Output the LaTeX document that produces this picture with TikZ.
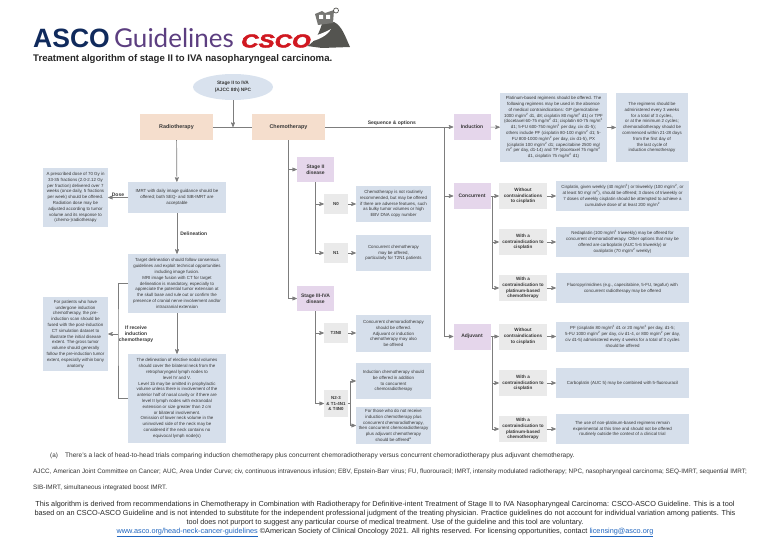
\documentclass[tikz,border=0pt]{standalone}
\usepackage{fontspec}
\setmainfont{Liberation Sans}
\newfontfamily\logofont{Lato}
\newfontfamily\cscofont[FakeBold=2.5]{Liberation Sans Bold Italic}
\usepackage{xcolor}
\definecolor{ascoblue}{RGB}{16, 42, 92}
\definecolor{ascopurple}{RGB}{92, 62, 128}
\definecolor{cscored}{RGB}{208, 24, 32}
\definecolor{dragon}{RGB}{84, 84, 80}
\definecolor{peach}{RGB}{245, 222, 205}
\definecolor{lilac}{RGB}{229, 214, 235}
\definecolor{steel}{RGB}{214, 223, 235}
\definecolor{oval}{RGB}{217, 226, 238}
\definecolor{pale}{RGB}{234, 234, 234}
\definecolor{wire}{RGB}{125, 125, 125}
\definecolor{weblink}{RGB}{30, 100, 190}
\usetikzlibrary{shapes, positioning, arrows}
\tikzset{
	txt/.style = {font=\fontsize{4.4}{5.8}\selectfont, align=center, inner sep=0pt, text=black!78},
	headbox/.style = {txt, fill=peach, minimum width=73, minimum height=26, font=\fontsize{5.4}{6.5}\selectfont\bfseries},
	stagebox/.style = {txt, fill=lilac, minimum width=37, minimum height=25, font=\fontsize{5}{6.3}\selectfont\bfseries},
	recbox/.style = {txt, fill=steel},
	nbox/.style = {txt, fill=pale, minimum width=24, minimum height=20, font=\fontsize{4.4}{5.8}\selectfont\bfseries},
	contra/.style = {txt, fill=pale, minimum width=48, minimum height=26, font=\fontsize{4.6}{5.8}\selectfont\bfseries},
	optbox/.style = {recbox, minimum width=133, minimum height=30},
	midbox/.style = {recbox, minimum width=75, minimum height=36.5},
	lab/.style = {txt, font=\fontsize{5}{6}\selectfont\bfseries},
	foot/.style = {inner sep=0pt, anchor=west, font=\fontsize{6.37}{8}\selectfont, text=black!80},
	wiring/.style = {draw=wire, line width=0.7pt},
	arr/.style = {wiring, ->}
}
\begin{document}
\begin{tikzpicture}[> = stealth', x=1pt, y=-1pt]
	\useasboundingbox (0,0) rectangle (768,543);

	% logos and title
	\node [inner sep=0pt, anchor=west, text=ascoblue, font=\fontsize{26.5}{30}\selectfont\bfseries] (asco) at (33,38) {ASCO};
	\node [inner sep=0pt, anchor=west, text=ascopurple, font=\fontsize{26}{30}\selectfont\logofont] (guide) at (114,38) {Guidelines};
	\fill [dragon] (307,46) .. controls (316,42) and (320,30) .. (322,24) -- (334,22)
		.. controls (342,26) and (345,36) .. (350,47) -- (322,48) -- cycle;
	\fill [white] (303,39) .. controls (312,37) and (322,34) .. (331,29) .. controls (328,35) and (318,41) .. (307,42) -- cycle;
	\fill [dragon] (330,30) .. controls (333,34) and (334,40) .. (331,46) -- (337,46) .. controls (339,38) and (336,32) .. (330,30) -- cycle;
	\fill [dragon!80] (315,14) -- (322,11) -- (325,13) -- (334,10) -- (333,23) -- (318,25) -- cycle;
	\fill [white] (319,15) rectangle (323,19) (326,15) rectangle (330,19);
	\draw [dragon, line width=0.7pt] (336,10.5) circle (2.5);
	\node [inner sep=0pt, anchor=west, text=cscored, xscale=1.3, font=\fontsize{18.5}{22}\cscofont\selectfont] (csco) at (241,41) {CSCO};
	\node [inner sep=0pt, anchor=west, font=\fontsize{9.6}{12}\selectfont\bfseries, text=black!85] (title) at (33,59) {Treatment algorithm of stage II to IVA nasopharyngeal carcinoma.};

	% top of the tree
	\node [ellipse, fill=oval, txt, minimum width=80, minimum height=26, font=\fontsize{4.8}{6.4}\selectfont\bfseries] (start) at (233,87) {Stage II to IVA\\(AJCC 8th) NPC};
	\node [headbox] (radio) at (176.5,127) {Radiotherapy};
	\node [headbox] (chemo) at (288.5,127) {Chemotherapy};
	\node [stagebox, minimum height=26] (induction) at (472,127) {Induction};
	\node [stagebox, minimum height=26] (concurrent) at (472,196) {Concurrent};
	\node [stagebox, minimum height=26] (adjuvant) at (472,336.5) {Adjuvant};

	% radiotherapy side
	\node [recbox, minimum width=98, minimum height=31] (imrt) at (177,197.5) {IMRT with daily image guidance should be\\offered; both SEQ- and SIB-IMRT are\\acceptable};
	\node [recbox, minimum width=65, minimum height=59] (dosetxt) at (75.5,197.5) {A prescribed dose of 70 Gy in\\33-35 fractions (2.0-2.12 Gy\\per fraction) delivered over 7\\weeks (once daily, 5 fractions\\per week) should be offered.\\Radiation dose may be\\adjusted according to tumor\\volume and its response to\\(chemo-)radiotherapy};
	\node [recbox, minimum width=98, minimum height=59] (target) at (177,283.5) {Target delineation should follow consensus\\guidelines and exploit technical opportunities\\including image fusion.\\MRI image fusion with CT for target\\delineation is mandatory, especially to\\appreciate the potential tumor extension at\\the skull base and rule out or confirm the\\presence of cranial nerve involvement and/or\\intracranial extension};
	\node [recbox, minimum width=98, minimum height=89] (elective) at (177,398.5) {The delineation of elective nodal volumes\\should cover the bilateral neck from the\\retropharyngeal lymph nodes to\\level IV and V.\\Level 1b may be omitted in prophylactic\\volume unless there is involvement of the\\anterior half of nasal cavity or if there are\\level II lymph nodes with extranodal\\extension or size greater than 2 cm\\or bilateral involvement.\\Omission of lower neck volume in the\\uninvolved side of the neck may be\\considered if the neck contains no\\equivocal lymph node(s)};
	\node [recbox, minimum width=65, minimum height=74] (patients) at (75.5,334) {For patients who have\\undergone induction\\chemotherapy, the pre-\\induction scan should be\\fused with the post-induction\\CT simulation dataset to\\illustrate the initial disease\\extent. The gross tumor\\volume should generally\\follow the pre-induction tumor\\extent, especially within bony\\anatomy};
	\coordinate (bracket) at (118,334);

	% chemotherapy by stage
	\node [stagebox] (stageii) at (315.5,169.5) {Stage II\\disease};
	\node [stagebox] (stageiii) at (315.5,298.5) {Stage III-IVA\\disease};
	\node [nbox] (nzero) at (336,204) {N0};
	\node [nbox] (none) at (336,253) {N1};
	\node [nbox] (tthree) at (336,333) {T3N0};
	\node [nbox, minimum height=27] (ntwo) at (336,403.5) {N2-3\\\& T1-4N1\\\& T4N0};
	\node [midbox] (nzerotxt) at (393.5,204) {Chemotherapy is not routinely\\recommended, but may be offered\\if there are adverse features, such\\as bulky tumor volumes or high\\EBV DNA copy number};
	\node [midbox] (nonetxt) at (393.5,253) {Concurrent chemotherapy\\may be offered,\\particularly for T2N1 patients};
	\node [midbox] (tthreetxt) at (393.5,333.5) {Concurrent chemoradiotherapy\\should be offered.\\Adjuvant or induction\\chemotherapy may also\\be offered};
	\node [midbox] (ntwoa) at (393.5,381) {Induction chemotherapy should\\be offered in addition\\to concurrent\\chemoradiotherapy};
	\node [midbox] (ntwob) at (393.5,425.5) {For those who do not receive\\induction chemotherapy plus\\concurrent chemoradiotherapy,\\then concurrent chemoradiotherapy\\plus adjuvant chemotherapy\\should be offered\textsuperscript{a}};
	\coordinate (nfork) at (350,403.5);

	% induction
	\node [recbox, minimum width=107, minimum height=69] (regimens) at (553.5,127.5) {Platinum-based regimens should be offered. The\\following regimens may be used in the absence\\of medical contraindications: GP (gemcitabine\\1000 mg/m\textsuperscript{2} d1, d8; cisplatin 80 mg/m\textsuperscript{2} d1) or TPF\\(docetaxel 60-75 mg/m\textsuperscript{2} d1; cisplatin 60-75 mg/m\textsuperscript{2}\\d1; 5-FU 600-750 mg/m\textsuperscript{2} per day, civ d1-5);\\others include PF (cisplatin 80-100 mg/m\textsuperscript{2} d1; 5-\\FU 800-1000 mg/m\textsuperscript{2} per day, civ d1-5), PX\\(cisplatin 100 mg/m\textsuperscript{2} d1; capecitabine 2500 mg/\\m\textsuperscript{2} per day, d1-14) and TP (docetaxel 75 mg/m\textsuperscript{2}\\d1, cisplatin 75 mg/m\textsuperscript{2} d1)};
	\node [recbox, minimum width=72, minimum height=69] (cycles) at (652,127.5) {The regimens should be\\administered every 3 weeks\\for a total of 3 cycles,\\or at the minimum 2 cycles;\\chemoradiotherapy should be\\commenced within 21-28 days\\from the first day of\\the last cycle of\\induction chemotherapy};
	\coordinate (seqfork) at (444,127);

	% concurrent and adjuvant
	\coordinate (concfork) at (492,196);
	\coordinate (adjfork) at (492,336.5);
	\node [contra] (cwo) at (523,196) {Without\\contraindications\\to cisplatin};
	\node [contra] (cwith) at (523,242) {With a\\contraindication to\\cisplatin};
	\node [contra] (cplat) at (523,288) {With a\\contraindication to\\platinum-based\\chemotherapy};
	\node [optbox] (cwotxt) at (622.5,196) {Cisplatin, given weekly (40 mg/m\textsuperscript{2}) or triweekly (100 mg/m\textsuperscript{2}, or\\at least 50 mg/ m\textsuperscript{2}), should be offered; 3 doses of triweekly or\\7 doses of weekly cisplatin should be attempted to achieve a\\cumulative dose of at least 200 mg/m\textsuperscript{2}};
	\node [optbox] (cwithtxt) at (622.5,242) {Nedaplatin (100 mg/m\textsuperscript{2} triweekly) may be offered for\\concurrent chemoradiotherapy. Other options that may be\\offered are carboplatin (AUC 5-6 triweekly) or\\oxaliplatin (70 mg/m\textsuperscript{2} weekly)};
	\node [optbox] (cplattxt) at (622.5,288) {Fluoropyrimidines (e.g., capecitabine, 5-FU, tegafur) with\\concurrent radiotherapy may be offered};
	\node [contra] (awo) at (523,336.5) {Without\\contraindications\\to cisplatin};
	\node [contra] (awith) at (523,383) {With a\\contraindication to\\cisplatin};
	\node [contra] (aplat) at (523,429) {With a\\contraindication to\\platinum-based\\chemotherapy};
	\node [optbox] (awotxt) at (622.5,336.5) {PF (cisplatin 80 mg/m\textsuperscript{2} d1 or 20 mg/m\textsuperscript{2} per day, d1-5;\\5-FU 1000 mg/m\textsuperscript{2} per day, civ d1-4, or 800 mg/m\textsuperscript{2} per day,\\civ d1-5) administered every 4 weeks for a total of 3 cycles\\should be offered};
	\node [optbox] (awithtxt) at (622.5,383) {Carboplatin (AUC 5) may be combined with 5-fluorouracil};
	\node [optbox] (aplattxt) at (622.5,429) {The use of non-platinum-based regimens remain\\experimental at this time and should not be offered\\routinely outside the context of a clinical trial};

	% connectors
	\draw [wiring] (radio) -- (chemo);
	\draw [arr] (start) -- (start |- radio);
	\draw [arr] (radio) -- (imrt);
	\draw [arr] (imrt) -- node [lab, right=3pt] (delin) {Delineation} (target);
	\draw [arr] (target) -- (elective);
	\draw [arr] (imrt) -- node [lab, above=1pt] (dose) {Dose} (dosetxt);
	\draw [wiring] (target.west) -| (bracket) |- (elective.west);
	\draw [arr] (bracket) -- (patients);
	\draw [arr] (chemo.south) |- (stageii.west);
	\draw [arr] (chemo.south) |- (stageiii.west);
	\draw [arr] (stageii.south) |- (nzero.west);
	\draw [arr] (stageii.south) |- (none.west);
	\draw [arr] (stageiii.south) |- (tthree.west);
	\draw [arr] (stageiii.south) |- (ntwo.west);
	\draw [arr] (nzero) -- (nzerotxt);
	\draw [arr] (none) -- (nonetxt);
	\draw [arr] (tthree.east) -- (tthree.east -| tthreetxt.west);
	\draw [wiring] (ntwo.east) -- (nfork);
	\draw [arr] (nfork) |- (ntwoa.west);
	\draw [arr] (nfork) |- (ntwob.west);
	\draw [arr] (chemo.east) -- node [lab, pos=0.52, above=1.5pt] (seq) {Sequence \& options} (induction.west);
	\draw [arr] (seqfork) |- (concurrent.west);
	\draw [arr] (seqfork) |- (adjuvant.west);
	\draw [arr] (induction) -- (regimens);
	\draw [arr] (regimens) -- (cycles);
	\draw [arr] (concurrent) -- (cwo);
	\draw [arr] (concfork) |- (cwith.west);
	\draw [arr] (concfork) |- (cplat.west);
	\draw [arr] (cwo) -- (cwotxt);
	\draw [arr] (cwith) -- (cwithtxt);
	\draw [arr] (cplat) -- (cplattxt);
	\draw [arr] (adjuvant) -- (awo);
	\draw [arr] (adjfork) |- (awith.west);
	\draw [arr] (adjfork) |- (aplat.west);
	\draw [arr] (awo) -- (awotxt);
	\draw [arr] (awith) -- (awithtxt);
	\draw [arr] (aplat) -- (aplattxt);

	\node [lab] (ifreceive) at (136,334) {If receive\\induction\\chemotherapy};

	% footnotes
	\node [foot] (aflag) at (50,456) {(a)};
	\node [foot, font=\fontsize{6.55}{8}\selectfont] (anote) at (65,456) {There's a lack of head-to-head trials comparing induction chemotherapy plus concurrent chemoradiotherapy versus concurrent chemoradiotherapy plus adjuvant chemotherapy.};
	\node [foot] (abbr) at (33,472) {AJCC, American Joint Committee on Cancer; AUC, Area Under Curve; civ, continuous intravenous infusion; EBV, Epstein-Barr virus; FU, fluorouracil; IMRT, intensity modulated radiotherapy; NPC, nasopharyngeal carcinoma; SEQ-IMRT, sequential IMRT;};
	\node [foot] (abbrb) at (33,488) {SIB-IMRT, simultaneous integrated boost IMRT.};
	\node [inner sep=0pt, align=center, font=\fontsize{7.3}{9.2}\selectfont, text=black!85] (legal) at (385,519) {This algorithm is derived from recommendations in Chemotherapy in Combination with Radiotherapy for Definitive-intent Treatment of Stage II to IVA Nasopharyngeal Carcinoma: CSCO-ASCO Guideline. This is a tool\\based on an CSCO-ASCO Guideline and is not intended to substitute for the independent professional judgment of the treating physician. Practice guidelines do not account for individual variation among patients. This\\tool does not purport to suggest any particular course of medical treatment. Use of the guideline and this tool are voluntary.\\\textcolor{weblink}{\underline{www.asco.org/head-neck-cancer-guidelines}} ©American Society of Clinical Oncology 2021. All rights reserved. For licensing opportunities, contact \textcolor{weblink}{\underline{licensing@asco.org}}};
\end{tikzpicture}
\end{document}
